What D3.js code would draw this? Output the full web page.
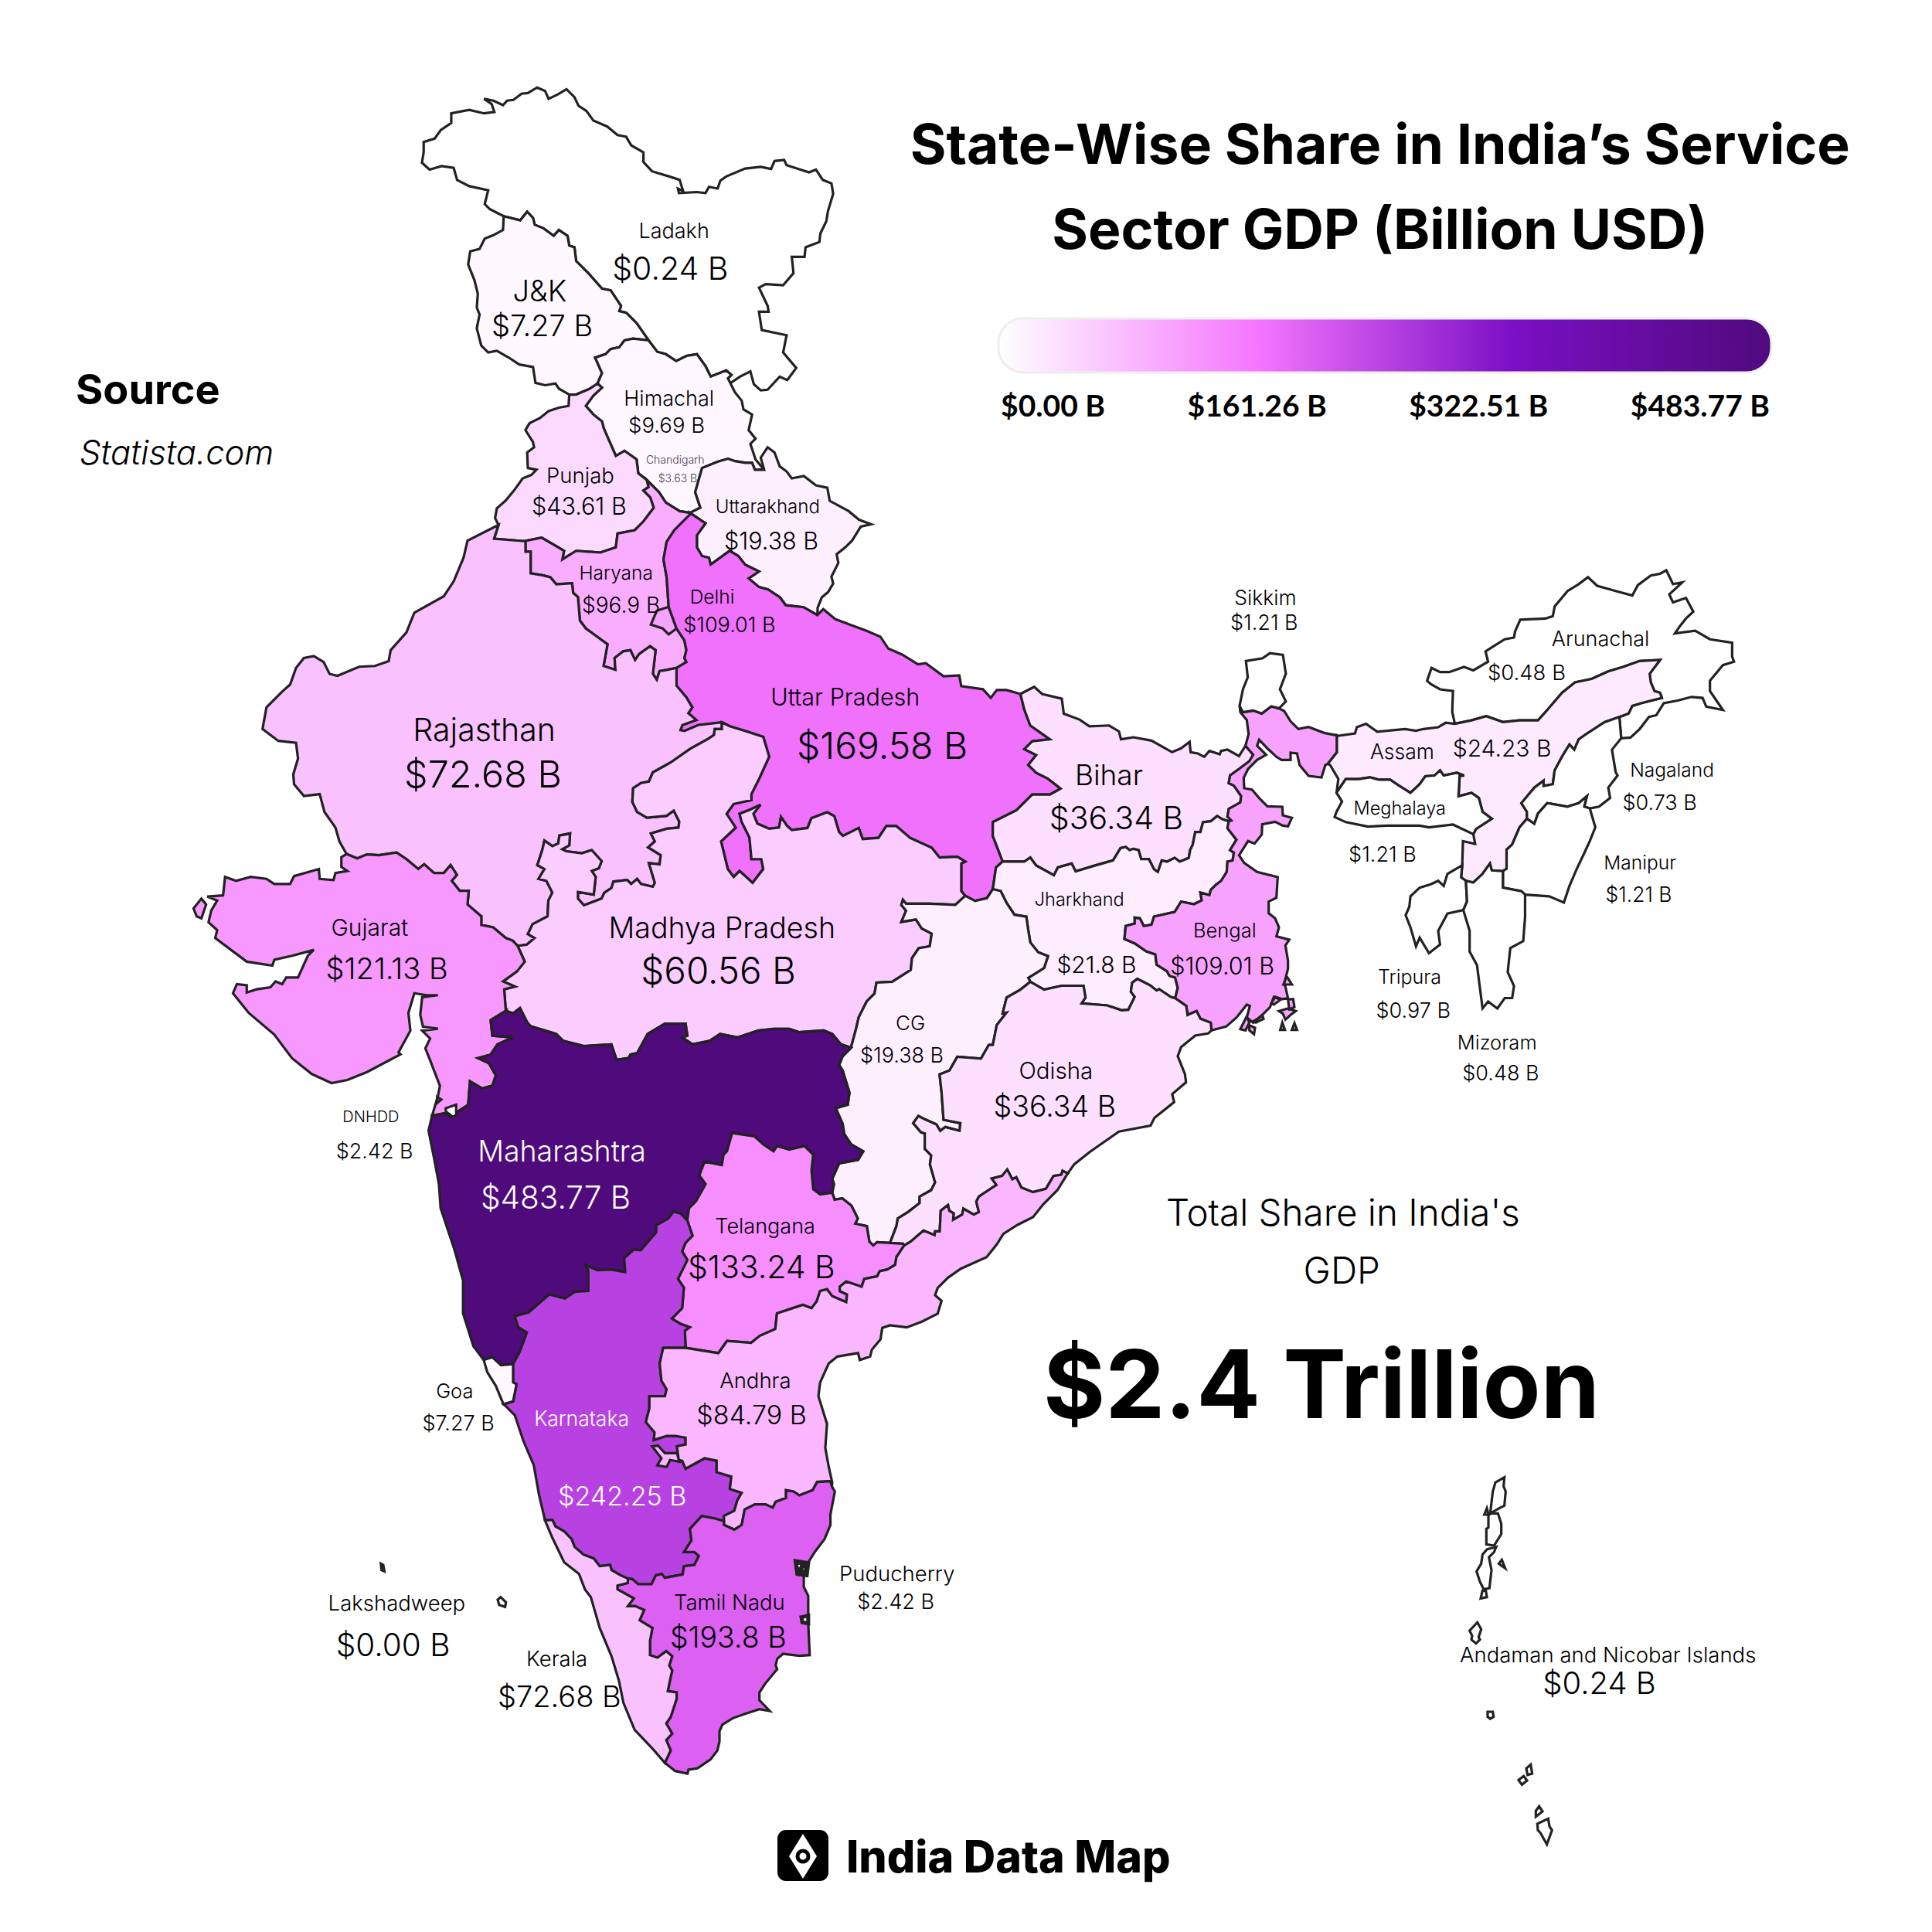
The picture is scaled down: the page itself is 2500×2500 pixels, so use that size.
<!DOCTYPE html>
<html>
<meta charset="utf-8">
<style>
  body { margin: 0; background: #fff; }
  text { font-family: Inter, "Noto Sans", sans-serif; }
</style>
<body>
<script src="https://d3js.org/d3.v7.min.js"></script>
<script>
// values, billion USD
const stateNames = ["Ladakh","J&K","Himachal","Chandigarh","Punjab","Uttarakhand","Haryana","Delhi","Uttar Pradesh","Rajasthan","Bihar","Madhya Pradesh","Gujarat","Jharkhand","Bengal","CG","Odisha","Maharashtra","Telangana","Karnataka","Andhra","Tamil Nadu","Kerala","Goa","Puducherry","Lakshadweep","DNHDD","Sikkim","Arunachal","Assam","Nagaland","Meghalaya","Manipur","Tripura","Mizoram","Andaman and Nicobar Islands"];
const stateValues = [0.24,7.27,9.69,3.63,43.61,19.38,96.9,109.01,169.58,72.68,36.34,60.56,121.13,21.8,109.01,19.38,36.34,483.77,133.24,242.25,84.79,193.8,72.68,7.27,2.42,0,2.42,1.21,0.48,24.23,0.73,1.21,1.21,0.97,0.48,0.24];
const legendStops = [0,161.26,322.51,483.77];
const legendColors = ["#ffffff","#f576ff","#7b0fc4","#4f0a7c"];
const legendLabels = ["$0.00 B","$161.26 B","$322.51 B","$483.77 B"];

const sheets = {
  n:[500,90,2.24,2.24], w:[230,650,1.96,1.96], c:[800,750,1.96,1.96], e:[1550,700,2.09,2.24],
  s:[530,1300,2.24,2.24], t:[600,1850,2.613,3], a:[1850,1880,3,3], b:[1450,880,3,3],
  m:[1400,1100,3,3], g:[1080,1420,3,3]
};

// shared border arcs, so neighbours always meet
const arcs = {
  ladakhOuter:[["n","340,425 300,405 285,390 295,350 240,338 205,320 195,285 160,280 125,290 103,270 108,240 108,210 140,200 158,175 188,155 188,127 240,117 283,127 313,123 305,100 283,85 310,90 338,103 350,90 368,88 392,70 410,68 437,52 460,62 470,85 497,72 522,57 545,80 557,105 580,120 600,148 640,165 670,190 695,195 710,220 745,240 745,268 770,295 820,310 850,320 860,352 845,345 848,358 900,355 925,358 935,340 960,345 968,322 985,310 1040,287 1085,282 1115,288 1125,265 1153,262 1160,277 1225,298 1245,290 1265,320 1290,330 1295,360 1280,410 1275,440 1258,475 1255,500 1215,515 1212,543 1175,543 1180,590 1150,625 1100,622 1080,632 1105,685 1108,702 1080,702 1088,755 1160,770 1150,820 1188,865 1162,900 1140,890 1105,928 1085,930 1065,912 1055,875 1025,890 995,910 990,895"]],
  ladakhHimachal:[["n","990,895 1000,885 985,872 940,890 925,860 900,825 870,830 840,845 810,825 785,818 760,785"]],
  ladakhJk:[["n","760,785 725,735 695,705 675,700 680,685 650,640 625,635 585,590 550,555 545,515 530,510 525,482 500,465 485,482 455,460 430,450 425,430 408,412 388,437 340,425"]],
  jkOuter:[["n","340,425 338,465 310,480 285,490 270,520 243,527 237,565 255,610 265,650 262,690 270,710 262,750 275,800 295,820 320,815 355,835 385,855 425,862 432,908 460,915 490,910 500,925 530,942"]],
  jkPunjab:[["n","530,942 550,942 590,925 612,910"]],
  jkHimachal:[["n","612,910 625,880 605,835 635,825 650,810 675,805 690,785 715,780 760,785"]],
  punjabHimachal:[["n","612,910 625,922 600,945 578,975 600,1000 625,1020 630,1040 665,1120 690,1105 725,1130 730,1170 755,1190"]],
  haryanaHimachal:[["n","755,1190 790,1225 810,1255 850,1280 880,1285"]],
  himachalEast:[["n","990,895 1010,935 1030,960 1035,985 1060,1000 1050,1045 1070,1070 1055,1085 1070,1130 1095,1160"]],
  himachalUk:[["n","1095,1160 1068,1160 1060,1140 1040,1140 1010,1135 990,1128 960,1137 915,1155 895,1225 910,1270 880,1285"]],
  punjabWest:[["n","530,942 528,975 500,980 470,990 445,1010 415,1025 403,1045 425,1080 428,1095 408,1110 410,1155 435,1160 420,1175 395,1185 370,1220 345,1250 320,1272 315,1300 325,1320"]],
  punjabRajasthan:[["n","325,1320 312,1360 400,1367"]],
  punjabHaryana:[["n","400,1367 450,1357 490,1380 515,1395 510,1420 550,1395 620,1400 665,1385 670,1345 720,1335 745,1310 775,1270 765,1240 745,1220 760,1210 755,1190"]],
  haryanaRajasthan:[["w","882,100 882,125 895,125 895,180 925,185 945,190 960,208 1000,205 1003,230 1015,240 1020,300 1035,320 1090,360 1080,415 1110,425 1108,395 1130,378 1148,375 1160,400 1170,385 1198,365 1212,375 1205,435 1215,450 1222,428 1240,425 1265,420"]],
  haryanaUp:[["w","1265,420 1290,405 1285,395 1290,375 1285,350 1265,320 1245,265 1240,190 1232,145 1240,100 1260,70 1300,30"]],
  ukOuter:[["n","1095,1160 1085,1125 1105,1095 1125,1110 1140,1150 1160,1165 1175,1185 1210,1178 1245,1205 1278,1212 1285,1250 1340,1280 1370,1305 1405,1318 1375,1325 1350,1365 1330,1385 1305,1405 1310,1430 1290,1470 1295,1490 1280,1515 1262,1530 1250,1560"],["c","505,90"]],
  ukUp:[["n","880,1285 925,1315 900,1350 900,1385 915,1410 935,1415 940,1435 995,1395 1020,1410 1040,1435 1080,1455 1050,1475 1080,1500"],["c","380,25 410,45 425,65 470,70 505,90"]],
  upNepal:[["c","505,90 520,75 550,100 590,115 630,130 665,145 685,175 720,190 760,215 780,212 825,245 865,243 870,270 925,278 945,300 960,280 985,280 1020,290"]],
  upBihar:[["c","1020,290 1030,330 1045,370 1095,405 1050,410 1030,430 1060,445 1040,470 1060,490 1090,505 1122,530 1095,545 1050,545 1010,585 950,615 950,650 975,715"]],
  upJh:[["c","975,715 958,730 950,785"]],
  upCg:[["c","950,785 935,808 905,815 880,802"]],
  upMp:[["w","1380,558 1400,568 1440,580 1485,595 1500,645 1475,700 1455,740 1455,755 1410,765 1392,790 1415,825 1378,860 1395,930 1410,950 1425,935 1458,965 1485,930 1480,905 1455,905 1450,850 1430,810 1425,790 1450,780 1478,767 1460,790 1470,815 1500,828 1525,825 1530,798 1545,820"],["c","440,635 480,630 490,605 530,590 548,600 560,640 570,650 610,630 620,658 660,655 680,625 705,625 740,655 795,680 815,705 860,703 880,715 870,720 870,790 880,802"]],
  upRaj:[["w","1265,420 1265,465 1290,495 1305,520 1295,535 1315,552 1280,565 1275,578 1285,580 1320,565 1380,558"]],
  rajMp:[["w","862,1125 885,1122 905,1105 888,1095 900,1070 938,1050 940,1010 950,990 935,960 915,955 930,930 912,920 925,880 930,858 950,872 965,865 968,845 995,840 993,870 975,880 985,885 1025,890 1050,882 1075,910 1068,928 1050,935 1060,950 1055,995 1015,988 1015,1005 1030,1022 1075,1005 1082,990 1100,978 1105,962 1140,958 1150,968 1165,955 1175,968 1205,975 1210,965 1195,915 1222,918 1225,895 1193,875 1210,860 1200,840 1240,828 1270,825 1272,810 1258,782 1240,795 1190,800 1165,785 1153,760 1155,725 1175,712 1195,708 1205,685 1250,660 1300,625 1345,600 1360,590 1362,575 1380,575 1380,558"]],
  rajWest:[["n","325,1320"],["w","735,97 725,140 700,200 675,238 600,280 580,330 540,375 535,403 500,415 460,417 405,440 385,435 370,405 345,390 320,395 300,420 285,462 265,480 225,520 215,575 255,605 300,610 305,650 293,690 295,715 320,745 360,740 372,785 400,825 410,860 428,892"]],
  gujRaj:[["w","428,892 455,903 480,893 510,895 555,888 580,905 610,930 625,918 650,940 675,940 692,920 708,945 695,960 715,985 738,985 735,1020 770,1050 770,1072 800,1078 832,1105 850,1112 862,1125"]],
  gujMp:[["w","862,1125 880,1165 860,1190 825,1215 855,1228 828,1235 832,1290"]],
  gujMaha:[["s","279,18 235,45 240,90 300,95 255,115 235,145 198,155 230,170 250,205 240,235 210,243 175,222 170,290 140,310 120,325 100,315 65,322"]],
  gujCoast:[["w","645,1556 660,1505 665,1480 640,1415 628,1385 640,1360 620,1340 660,1335 622,1330 615,1300 620,1255 660,1250 630,1250 600,1245 585,1295 590,1340 560,1395 565,1400 480,1445 430,1465 390,1473 340,1450 290,1410 245,1350 180,1295 140,1245 150,1222 175,1225 175,1243 200,1235 235,1230 248,1215 265,1222 275,1205 305,1205 330,1150 345,1135 335,1138 290,1150 245,1160 240,1175 175,1165 95,1105 100,1085 78,1065 85,1035 100,1010 75,1000 115,997 120,950 148,960 185,950 225,955 245,968 285,968 295,948 358,930 360,955 395,958 400,940 430,935 415,925 415,900 428,892"]],
  mpCg:[["c","880,802 855,825 790,822 730,822 722,812 718,825 730,840 718,868 755,862 770,885 795,898 790,930 762,935 745,960 742,990 695,1020 655,1022 650,1050 630,1070 610,1110 603,1140 590,1188"]],
  mpMaha:[["s","1280,125 1250,115 1225,85 1200,75 1130,80 1100,70 1055,70 1010,75 950,95 900,85 870,105 820,115 790,95 805,90 800,55 740,55 690,85 660,140 640,145 635,155 600,160 585,115 505,120 445,105 425,85 350,62 340,50 320,10 300,25 279,18"]],
  mahaCg:[["s","1280,125 1255,150 1245,175 1255,190 1275,255 1270,290 1235,300 1255,345 1260,375 1280,405 1315,425 1300,450 1245,460 1225,505 1230,520 1225,545"]],
  mahaTelangana:[["s","805,625 810,590 830,570 858,520 840,495 855,455 905,465 910,435 920,425 935,372 1000,382 1025,405 1055,425 1065,410 1100,420 1145,410 1170,435 1165,480 1170,535 1190,550 1225,545"]],
  mahaKarnataka:[["s","300,1042 320,1005 340,950 315,935 305,903 345,892 405,840 450,852 480,832 518,830 518,770 510,755 545,770 585,768 625,775 622,735 650,710 670,712 715,660 715,640 750,620 765,600 785,605 805,625"]],
  mahaCoast:[["s","65,322 55,365 70,440 85,520 90,590 130,710 155,800 155,895 185,990 215,1030"]],
  goaMaha:[["s","215,1030 240,1022 265,1045 300,1042"]],
  goaKarn:[["s","300,1042 300,1095 310,1100 300,1150 272,1158"]],
  goaCoast:[["s","272,1158 250,1105 225,1065 215,1030"]],
  karnTelangana:[["s","805,625 820,670 800,690 790,715 805,740 778,795 795,820 790,880 760,910 785,925 812,935 798,945 800,995"]],
  karnAndhra:[["s","800,995 735,995 725,1040 730,1090 745,1115 740,1135 695,1135 695,1170 685,1210 710,1240 708,1262 745,1250 770,1250 800,1255 800,1275 775,1280 780,1320 790,1322 800,1345 855,1315 890,1322 890,1355"],["t","905,182 900,230 940,245 925,275 915,315 880,335 880,355"]],
  karnTn:[["t","555,578 570,580 590,600 635,600 650,565 670,560 680,575 740,562 745,530 780,525 795,490 780,475 745,475 770,430 765,385 805,335 850,345 880,355"]],
  karnKerala:[["t","275,352 300,350 310,375 340,395 365,425 375,455 405,485 440,500 460,530 495,525 500,545 530,565 555,578"]],
  karnCoast:[["s","272,1158 280,1165 305,1190 330,1265 360,1335 375,1420"],["t","275,352"]],
  tnKerala:[["t","555,578 555,595 520,605 520,620 575,655 555,685 580,685 610,700 595,740 638,770 630,820 630,875 655,885 685,860 705,880 695,915 705,935 700,960 690,1015 720,1020 720,1045 700,1115 685,1140 705,1180 685,1205 700,1245 680,1293"]],
  keralaCoast:[["t","275,352 300,420 340,515 390,560 410,620 430,650 460,770 500,880 525,975 540,1060 578,1165 640,1240 680,1293"]],
  tnAndhra:[["t","880,355 880,370 915,388 940,370 950,310 985,290 1020,290 1045,303 1055,280 1090,265 1090,235 1115,240 1135,255 1180,235 1195,203 1240,200 1245,220"]],
  tnCoast:[["t","1245,220 1255,240 1240,330 1240,370 1220,425 1190,470 1165,515 1150,570 1150,610 1165,645 1165,750 1170,875 1135,878 1080,870 1060,890 1055,915 1060,930 1020,985 1000,1020 1000,1050 1035,1092 1000,1085 955,1102 910,1120 875,1145 865,1170 865,1210 858,1245 835,1280 790,1315 760,1320 757,1335 715,1325 680,1293"]],
  telCg:[["s","1225,545"],["g","0,397 30,392 65,420 90,470 80,490 125,500 135,560 150,575 165,562 215,565"]],
  telOdisha:[["g","215,565 265,568 270,575"]],
  telAndhra:[["g","270,575 240,620 235,650 205,668 175,675 165,695 115,705 105,735 45,715 20,735 20,752 48,765 45,795"],["s","1225,845 1210,825 1190,830 1180,860 1165,880 1140,870 1065,895 1060,940 1015,960 990,980 920,975 895,1010 800,995"]],
  andOdisha:[["g","270,575 295,560 345,517 388,535 390,520 408,520 412,440 440,418 445,440 462,450 460,475 495,455 500,432 540,455 560,445 550,405 560,385 628,340 610,315 650,305 670,280 690,318 705,310 725,350 770,368 820,355 850,305 880,300 885,285 905,295"]],
  andCoast:[["g","905,295 865,360 810,415 770,465 710,495 655,530 630,570 590,620 490,665 440,700 400,740 390,768 415,790 400,840 340,870 280,893 215,885 185,895"],["s","1365,970 1340,1000 1335,1020 1305,1030 1300,1010 1240,1020 1215,1040 1190,1095 1185,1135 1210,1215 1205,1285 1215,1340 1225,1385"],["t","1245,220"]],
  cgOdisha:[["c","1045,1020 1020,1040 985,1060 975,1100 985,1098 960,1130 950,1180 940,1180 920,1215 860,1210 840,1245 815,1255 820,1300 825,1370"],["g","488,100 485,130 430,115 410,130 395,105 350,85 325,72 305,100 335,135 350,140 350,200 375,225 370,260 390,330 375,360 330,385 330,410 285,445 245,470 240,500 215,565"]],
  odishaCoast:[["g","905,295 930,260 990,212"],["c","1270,1400 1350,1385 1360,1365 1410,1325 1405,1305 1440,1275"],["m","400,870 372,800 385,765 440,720 490,712 503,700"]],
  jhCg:[["c","950,785 970,790 985,820 1005,850 1035,855 1040,890 1045,920 1065,945 1090,955 1080,985 1040,1010 1045,1020"]],
  jhOdisha:[["c","1045,1020 1080,1040 1125,1030 1180,1030 1185,1060 1175,1075 1240,1080"],["m","155,622 180,620 205,570 190,550 195,515 215,500 265,525 290,545 300,540 345,570 362,575"]],
  bengalOdisha:[["m","362,575 405,605 410,640 445,625 460,655 500,670 503,700"]],
  jhBengal:[["b","420,548 415,575 450,620 425,660 440,670 435,700 415,705 412,745 390,780"],["m","520,135 500,155 495,175 460,165 465,195 435,210 385,200 360,240 280,258 270,290 240,295 225,265 205,262 205,285 170,295 165,345 205,362 250,393 285,405 290,445 330,470 340,488 362,495 372,535 362,575"]],
  biharJh:[["c","975,715 1030,715 1045,705 1060,725 1105,750 1115,730 1150,720 1160,740 1210,725 1255,712 1274,681"],["b","20,648 35,660 50,655 70,660 80,695 110,695 130,735 145,745 160,700 180,705 210,690 230,705 265,690 270,660 280,640 290,590 310,590 320,552 350,548 375,528 395,540 420,548"]],
  biharNepal:[["c","1020,290 1055,272 1075,290 1125,302 1130,340 1170,355 1195,372 1245,370 1270,385 1275,405"],["b","50,222 120,235 200,280 235,265 268,240 272,280 300,285 325,298 345,275 385,288 390,275 415,270 460,295 485,255"]],
  biharBengal:[["b","485,255 515,290 500,315 460,345 425,370 420,400 440,410 468,450 465,475 420,500 415,530 430,545 420,548"]],
  bengalCoast:[["m","503,700 560,685 600,650 640,600 652,605 640,650 665,670 700,640 730,610 745,570 770,580 800,575 790,530 785,520 800,460 800,430 790,370 805,348 755,335 765,300 750,265 725,245 725,200 755,185 760,105 680,85 630,50 610,20"],["b","460,680 495,625 520,635 548,600 550,560 600,550 630,565 650,568 665,535 630,525 628,492 570,490 540,460 510,425 480,420 478,380 495,345 530,310 565,290 530,255 538,232 575,270 605,298 625,310 660,310 660,282 685,285 695,330 730,372 780,378 795,330 805,325"]],
  bengalAssam:[["b","840,215 840,280 805,325"]],
  bengalBhutan:[["b","840,215 790,205 730,182 690,190 660,160 635,120 615,110"]],
  sikkimBengal:[["b","615,110 585,102 548,130 515,118 475,125 462,100"]],
  bengalNepal:[["b","462,100 465,125 490,155 497,210 485,255"]],
  sikkimOuter:[["b","462,100"],["e","122,430 135,395 130,348 175,340 195,325 230,330 238,385 222,430 238,465 220,485"],["b","615,110"]],
  assamNorth:[["e","378,565 425,558 430,540 455,530 485,553 560,545 590,550 610,545 650,540 670,527 695,530"]],
  arunAssam:[["e","695,530 740,520 780,508 825,525 870,520 920,520 945,490 985,440 1020,410 1065,400 1110,378 1150,365 1195,348 1250,345 1222,385 1225,410 1235,435 1250,440 1255,455 1200,470 1175,478 1165,500 1140,510"]],
  assamNaga:[["e","1140,510 1100,525 1050,560 1030,575 1018,605 1005,590 985,625 965,665 960,705 935,710 935,695 910,715 875,760 890,785 890,805"]],
  assamManipur:[["e","890,805 870,830 850,880 835,895 835,950 825,957"]],
  assamMizo:[["e","825,957 795,955 790,935 770,965 745,990 725,985"]],
  assamTripura:[["e","725,985 712,975 715,940"]],
  assamBd:[["e","715,940 717,870 750,878 745,850"]],
  assamMeg:[["e","745,850 752,835 795,805 770,785 760,745 740,730 705,740 708,680 720,680 700,672 665,680 655,665 640,680 615,682 600,705 575,730 545,710 520,692 490,692 465,685 435,690 400,690 375,730"]],
  assamWest:[["e","375,730 380,690 358,650"]],
  megSouth:[["e","745,850 690,822 625,830 600,825 510,825 460,828 400,815 370,800 375,785 390,755 375,730"]],
  arunOuter:[["e","695,530 688,495 690,435 655,430 630,415 620,405 632,368 655,380 680,380 720,365 745,375 785,350 778,320 800,305 830,285 855,280 858,262 872,228 940,225 960,218 965,190 1000,145 1030,125 1055,105 1080,130 1130,145 1175,158 1190,128 1225,100 1250,95 1267,85 1285,125 1310,120 1275,155 1285,178 1320,165 1340,205 1320,225 1305,245 1290,268 1345,260 1385,285 1445,295 1445,335 1450,350 1420,360 1385,405 1385,435 1420,490 1375,480 1365,455 1335,452 1300,462 1260,470 1240,505 1220,510 1195,545 1170,570 1145,572"]],
  arunNaga:[["e","1145,572 1140,510"]],
  nagaManipur:[["e","890,805 910,820 920,790 945,760 1000,770 1030,760 1052,740 1045,770 1060,775"]],
  nagaEast:[["e","1060,775 1085,770 1115,745 1110,715 1135,680 1130,670 1120,605 1145,572"]],
  manipurEast:[["e","1060,775 1075,830 1060,870 1045,905 1025,950 1005,1000 990,1048 950,1030 885,1025"]],
  manipurMizo:[["e","885,1025 875,1015 825,1005 825,957"]],
  mizoEast:[["e","885,1025 885,1090 880,1160 845,1180 838,1250 855,1290 850,1325 830,1325 810,1355 785,1335 770,1355 755,1230 735,1190 735,1130 718,1070"]],
  tripuraMizo:[["e","718,1070 728,1045 725,985"]],
  tripuraOuter:[["e","715,940 675,965 665,1000 650,985 630,995 600,1005 575,1030 572,1060 562,1085 575,1120 590,1175 600,1150 625,1195 655,1170 650,1130 675,1080 718,1070"]]
};

// rings of each state, "-" walks an arc backwards
const stateRings = {
  "Ladakh":["ladakhOuter","ladakhHimachal","ladakhJk"],
  "J&K":["jkOuter","jkPunjab","jkHimachal","ladakhJk"],
  "Himachal":["-ladakhHimachal","himachalEast","himachalUk","-haryanaHimachal","-punjabHimachal","jkHimachal"],
  "Punjab":["punjabWest","punjabRajasthan","punjabHaryana","-punjabHimachal","-jkPunjab"],
  "Uttarakhand":["ukOuter","-ukUp","-himachalUk"],
  "Haryana":["-punjabHaryana","haryanaRajasthan","haryanaUp","-haryanaHimachal"],
  "Uttar Pradesh":["ukUp","upNepal","upBihar","upJh","upCg","-upMp","-upRaj","haryanaUp"],
  "Rajasthan":["rajWest","gujRaj","rajMp","-upRaj","-haryanaRajasthan","-punjabRajasthan"],
  "Bihar":["-upBihar","biharNepal","biharBengal","-biharJh"],
  "Madhya Pradesh":["rajMp","upMp","mpCg","mpMaha","-gujMp"],
  "Gujarat":["gujRaj","gujMp","gujMaha","gujCoast"],
  "Jharkhand":["jhCg","jhOdisha","-jhBengal","-biharJh","upJh"],
  "Bengal":["biharBengal","jhBengal","bengalOdisha","bengalCoast","-bengalAssam","bengalBhutan","sikkimBengal","bengalNepal"],
  "CG":["upCg","mpCg","mahaCg","telCg","-cgOdisha","-jhCg"],
  "Odisha":["cgOdisha","telOdisha","andOdisha","odishaCoast","-bengalOdisha","-jhOdisha"],
  "Maharashtra":["-mpMaha","mahaCg","-mahaTelangana","-mahaKarnataka","-goaMaha","-mahaCoast","-gujMaha"],
  "Telangana":["mahaTelangana","telCg","telOdisha","telAndhra","-karnTelangana"],
  "Karnataka":["mahaKarnataka","karnTelangana","karnAndhra","-karnTn","-karnKerala","-karnCoast","-goaKarn"],
  "Andhra":["-telAndhra","andOdisha","andCoast","-tnAndhra","-karnAndhra"],
  "Tamil Nadu":["karnTn","tnAndhra","tnCoast","-tnKerala"],
  "Kerala":["karnKerala","tnKerala","-keralaCoast"],
  "Goa":["goaMaha","goaKarn","goaCoast"],
  "Sikkim":["sikkimOuter","sikkimBengal"],
  "Arunachal":["arunOuter","arunNaga","-arunAssam"],
  "Assam":["assamNorth","arunAssam","assamNaga","assamManipur","assamMizo","assamTripura","assamBd","assamMeg","assamWest","-bengalAssam"],
  "Nagaland":["assamNaga","nagaManipur","nagaEast","arunNaga"],
  "Meghalaya":["-assamMeg","megSouth"],
  "Manipur":["nagaManipur","manipurEast","manipurMizo","-assamManipur"],
  "Tripura":["tripuraMizo","assamTripura","tripuraOuter"],
  "Mizoram":["mizoEast","tripuraMizo","-assamMizo","-manipurMizo"]
};

// islands, enclaves and the very small territories
const extraRings = {
  "Delhi":[["w","1245,265 1215,275 1200,310 1230,320 1245,335 1265,320"]],
  "Chandigarh":[["n","745,1220 760,1212 762,1230 748,1232"]],
  "Gujarat":[["w","40,1030 60,1005 72,1020 60,1055 48,1050"]],
  "Andhra":[["s","703,1280 730,1315 718,1335 745,1340 755,1320 782,1325 775,1300 740,1300 720,1278"]],
  "DNHDD":[["s","105,300 135,290 135,320 125,325 105,310"],["s","80,268 92,275 80,285"]],
  "Puducherry":[["t","1122,510 1165,518 1160,565 1128,560"],["t","1125,515 1145,520 1140,545 1125,535"],["t","1145,530 1160,525 1155,555 1140,550"],["t","1142,728 1165,722 1165,752 1145,748"]],
  "Lakshadweep":[["t","115,660 125,650 143,670 140,688 120,680"],["t","-280,520 -272,525 -268,550 -278,545"]],
  "Bengal":[["m","615,695 640,645 650,670 635,700"],["m","650,680 672,690 668,715 650,700"],["m","665,665 690,650 700,640 705,655 675,670"],["m","782,522 795,490 815,522"],["m","765,625 800,615 830,625 810,640 790,658 780,635"],["m","800,580 820,578 825,610 805,618"],["m","735,595 750,570 775,578 745,600"],["m","770,698 778,670 788,698"],["m","815,698 825,672 835,698"]],
  "Andaman and Nicobar Islands":[["a","290,95 255,115 245,150 235,235 270,215 290,205 295,150 287,130"],["a","235,235 265,235 278,275 278,315 250,360 220,355 220,295 228,290 228,245"],["a","222,375 205,395 200,430 182,460 195,500 210,530 232,525 240,455 230,405 250,385 258,365 240,370"],["a","205,535 218,535 222,560 198,565"],["a","222,215 228,240 212,240"],["a","280,415 293,448 268,430"],["a","185,658 200,685 190,715 195,725 180,740 162,725 165,710 155,690"],["a","225,1005 245,1005 248,1025 235,1032 225,1025"],["a","345,1270 365,1255 378,1272 358,1288"],["a","375,1225 392,1210 398,1245 380,1250"],["a","425,1372 438,1392 412,1412 412,1390"],["a","418,1440 460,1420 465,1450 475,1465 455,1520 430,1475 420,1465"]]
};

// label spots in a 1568 px view: name x, name y, name size, value x, value y, value size
const labelSpots = {
  "Ladakh":[547,187,27,544,218,41],"J&K":[438,236,38,440,264,38],"Himachal":[543,323,27,541,345,27.5],
  "Chandigarh":[548,373,14,550,388,14],"Punjab":[471,386,27.5,470,411,30.5],"Uttarakhand":[623,411,24,626,439,30.5],
  "Haryana":[500,465,24.5,504,491,28],"Delhi":[578,484,24.5,592,507,27],"Uttar Pradesh":[686,566,30.5,716,605,48],
  "Rajasthan":[393,592,41,392,628,48.5],"Bihar":[900,629,37,906,664,41],"Madhya Pradesh":[586,753,37.5,583,788,47.5],
  "Gujarat":[300,753,30,314,786,38],"Jharkhand":[876,730,23.5,890,783,30],"Bengal":[994,755,25.5,992,784,30.5],
  "CG":[739,830,26,732,856,27],"Odisha":[857,869,29.5,856,898,37.5],"Maharashtra":[456,934,37.5,451,972,40.5],
  "Telangana":[621,995,27,618,1028,41],"Andhra":[613,1120,27.5,610,1148,34],"Karnataka":[472,1151,26.5,505,1214,34],
  "Tamil Nadu":[592,1300,27.5,591,1329,37.5],"Kerala":[452,1346,27.5,454,1377,38],"Goa":[369,1129,25.5,372,1155,27],
  "Puducherry":[728,1277,27.5,727,1300,27],"Lakshadweep":[322,1301,27.5,319,1335,40.5],"DNHDD":[301,906,20,304,934,27],
  "Sikkim":[1027,485,26.5,1026,505,27],"Arunachal":[1299,518,27,1239,546,27.5],"Assam":[1138,610,26.5,1219,607,30],
  "Nagaland":[1357,625,24.5,1347,651,27],"Meghalaya":[1136,656,23.5,1122,693,27],"Manipur":[1331,700,24.5,1330,726,26.5],
  "Tripura":[1144,793,25,1147,820,27],"Mizoram":[1215,846,25.5,1218,871,27],"Andaman and Nicobar Islands":[1305,1343,27.5,1298,1366,40]
};

const width = 2500, height = 2500;
const view = d3.scaleLinear().domain([0, 1568]).range([0, 2500]);

const color = d3.scaleLinear().domain(legendStops).range(legendColors);

function parsePts(sheet, str) {
  const [x0, y0, kx, ky] = sheets[sheet];
  return str.split(" ").map(p => {
    const [x, y] = p.split(",").map(Number);
    return [x0 + x / kx, y0 + y / ky];
  });
}
function arcPts(name) {
  const back = name[0] === "-";
  const pts = arcs[back ? name.slice(1) : name].flatMap(([sh, str]) => parsePts(sh, str));
  return back ? pts.reverse() : pts;
}
function closeRing(pts) { return pts.concat([pts[0]]); }

const features = stateNames.map((name, i) => {
  const polys = [];
  if (stateRings[name]) polys.push([closeRing(stateRings[name].flatMap(arcPts))]);
  (extraRings[name] || []).forEach(([sh, str]) => polys.push([closeRing(parsePts(sh, str))]));
  return {
    type: "Feature",
    properties: { name: name, value: stateValues[i] },
    geometry: { type: "MultiPolygon", coordinates: polys }
  };
});

const svg = d3.select("body").append("svg")
  .attr("width", width).attr("height", height)
  .style("display", "block");

const path = d3.geoPath(d3.geoIdentity());

svg.append("g").selectAll("path")
  .data(features)
  .join("path")
    .attr("d", path)
    .attr("fill", d => color(d.properties.value))
    .attr("stroke", "#222")
    .attr("stroke-width", d => d.properties.name === "Puducherry" ? 5 : 3.2)
    .attr("stroke-linejoin", "miter");

// state labels
const fmt = v => "$" + (v === 0 ? "0.00" : v) + " B";
const labels = svg.append("g").selectAll("g")
  .data(stateNames.map((n, i) => ({ name: n, value: stateValues[i], spot: labelSpots[n] })))
  .join("g")
    .attr("text-anchor", "middle")
    .attr("font-weight", 300)
    .attr("fill", d => d.name === "Maharashtra" || d.name === "Karnataka" ? "#fff" : d.name === "Chandigarh" ? "#444" : "#000");

labels.append("text")
  .attr("x", d => view(d.spot[0])).attr("y", d => view(d.spot[1]))
  .attr("dy", "0.36em")
  .attr("font-size", d => d.spot[2])
  .text(d => d.name);

labels.append("text")
  .attr("x", d => view(d.spot[3])).attr("y", d => view(d.spot[4]))
  .attr("dy", "0.36em")
  .attr("font-size", d => d.spot[5])
  .text(d => fmt(d.value));

// title
svg.append("g").attr("text-anchor", "middle").attr("font-weight", 700).attr("font-size", 71.4).attr("fill", "#000")
  .selectAll("text")
  .data(["State-Wise Share in India’s Service", "Sector GDP (Billion USD)"])
  .join("text")
    .attr("x", view(1120))
    .attr("y", (d, i) => view(117 + i * 69))
    .attr("dy", "0.36em")
    .text(d => d);

// legend
const legendX = d3.scaleLinear().domain([0, 483.77]).range([1430, 2290]);
const grad = svg.append("defs").append("linearGradient").attr("id", "legend-grad");
grad.selectAll("stop")
  .data(legendStops)
  .join("stop")
    .attr("offset", d => d / 483.77)
    .attr("stop-color", d => color(d));

svg.append("rect")
  .attr("x", 1292).attr("y", 412)
  .attr("width", 1000).attr("height", 70)
  .attr("rx", 32)
  .attr("fill", "url(#legend-grad)")
  .attr("stroke", "#eeeeee").attr("stroke-width", 3);

svg.append("g").attr("text-anchor", "end")
  .selectAll("text")
  .data(legendStops)
  .join("text")
    .attr("x", d => legendX(d))
    .attr("y", 539)
    .style("font-family", "Lato")
    .attr("font-weight", 700)
    .attr("font-size", 39)
    .attr("fill", "#000")
    .text((d, i) => legendLabels[i]);

// source
svg.append("text").attr("x", 98).attr("y", view(316)).attr("dy", "0.36em")
  .attr("font-size", 54).attr("font-weight", 700).attr("fill", "#000").text("Source");
svg.append("text").attr("x", 103).attr("y", view(367)).attr("dy", "0.36em")
  .attr("font-size", 43.5).attr("font-weight", 300).attr("font-style", "italic").attr("fill", "#000").text("Statista.com");

// total
svg.append("text").attr("x", view(1090)).attr("y", view(984)).attr("dy", "0.36em")
  .attr("text-anchor", "middle").attr("font-size", 47.5).attr("font-weight", 300).attr("fill", "#000").text("Total Share in India's");
svg.append("text").attr("x", view(1089)).attr("y", view(1031)).attr("dy", "0.36em")
  .attr("text-anchor", "middle").attr("font-size", 47.5).attr("font-weight", 300).attr("fill", "#000").text("GDP");
svg.append("text").attr("x", view(1072.5)).attr("y", view(1123)).attr("dy", "0.36em")
  .attr("text-anchor", "middle").attr("font-size", 122.5).attr("font-weight", 700).attr("fill", "#000").text("$2.4 Trillion");

// logo
const logo = svg.append("g");
logo.append("rect").attr("x", 1006).attr("y", 2368).attr("width", 66).attr("height", 66).attr("rx", 11).attr("fill", "#000");
logo.append("path").attr("d", "M1039,2373L1057,2402L1039,2431L1021,2402Z").attr("fill", "#fff");
logo.append("circle").attr("cx", 1039).attr("cy", 2402).attr("r", 7).attr("fill", "#fff").attr("stroke", "#000").attr("stroke-width", 5);
logo.append("text").attr("x", 1095).attr("y", 2423).attr("font-size", 57.3).attr("font-weight", 800).attr("fill", "#000").text("India Data Map");
</script>
</body>
</html>
